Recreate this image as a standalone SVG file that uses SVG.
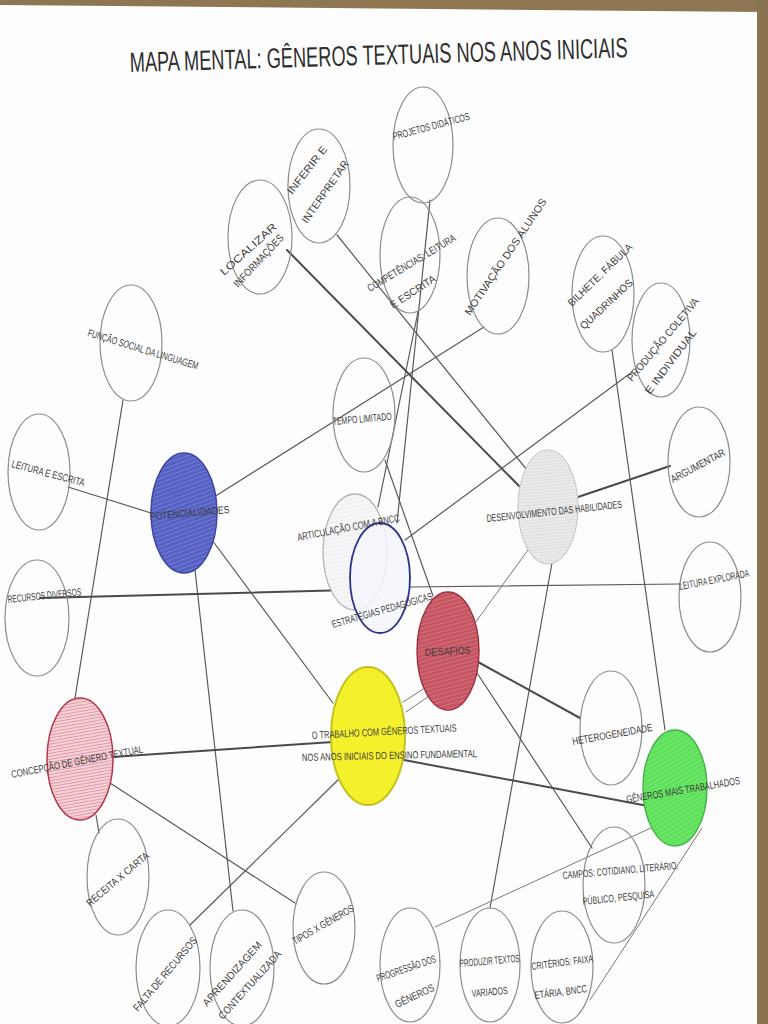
<svg xmlns="http://www.w3.org/2000/svg" width="768" height="1024" viewBox="0 0 768 1024">
<style>
  .lbl { font-family: "Liberation Sans", "DejaVu Sans", sans-serif; font-size: 10.5px; fill: #3e3e3e; }
  .title { font-family: "Liberation Sans", "DejaVu Sans", sans-serif; font-size: 28px; fill: #2e2e2e; }
  .node { fill: #ffffff; fill-opacity: 0; stroke: #8c8c8c; stroke-width: 1.2; }
  .ln { stroke: #5a5a5a; stroke-width: 1.2; fill: none; stroke-linecap: round; }
  .lt { stroke: #7a7a7a; stroke-width: 1; fill: none; stroke-linecap: round; }
  .lk { stroke: #4a4a4a; stroke-width: 2; fill: none; stroke-linecap: round; }
</style>
<defs>
  <pattern id="hatchBlue" width="4" height="4" patternUnits="userSpaceOnUse" patternTransform="rotate(70)">
    <rect width="4" height="4" fill="#5461c2"/>
    <line x1="0" y1="0" x2="0" y2="4" stroke="#8d96dc" stroke-width="1"/>
  </pattern>
  <pattern id="hatchRed" width="4" height="4" patternUnits="userSpaceOnUse" patternTransform="rotate(75)">
    <rect width="4" height="4" fill="#c65562"/>
    <line x1="0" y1="0" x2="0" y2="4" stroke="#de8d96" stroke-width="1"/>
  </pattern>
  <pattern id="hatchPink" width="3" height="3" patternUnits="userSpaceOnUse" patternTransform="rotate(80)">
    <rect width="3" height="3" fill="#f4d2d7"/>
    <line x1="0" y1="0" x2="0" y2="3" stroke="#c8566a" stroke-width="0.9"/>
  </pattern>
  <pattern id="hatchGreen" width="4" height="4" patternUnits="userSpaceOnUse" patternTransform="rotate(60)">
    <rect width="4" height="4" fill="#5fe05c"/>
    <line x1="0" y1="0" x2="0" y2="4" stroke="#8ef08a" stroke-width="1"/>
  </pattern>
  <pattern id="hatchGray" width="3" height="3" patternUnits="userSpaceOnUse" patternTransform="rotate(85)">
    <rect width="3" height="3" fill="#eaeaea"/>
    <line x1="0" y1="0" x2="0" y2="3" stroke="#cfcfcf" stroke-width="0.9"/>
  </pattern>
  <pattern id="hatchLight" width="4" height="4" patternUnits="userSpaceOnUse" patternTransform="rotate(80)">
    <rect width="4" height="4" fill="#f6f6f8"/>
    <line x1="0" y1="0" x2="0" y2="4" stroke="#dedee6" stroke-width="0.8"/>
  </pattern>
</defs>

<!-- paper and board edges -->
<rect x="0" y="0" width="768" height="1024" fill="#fdfdfd"/>
<polygon points="0,0 768,0 768,12 0,5" fill="#8e7652"/>
<rect x="757" y="0" width="11" height="1024" fill="#8a7350"/>

<!-- title -->
<g id="title">
  <text class="title" x="130" y="72" textLength="498" lengthAdjust="spacingAndGlyphs" transform="rotate(-1.7 130 72)">MAPA MENTAL: GÊNEROS TEXTUAIS NOS ANOS INICIAIS</text>
</g>

<!-- connectors -->
<g id="connectors">
  <line class="ln" x1="123" y1="400" x2="75" y2="698"/>
  <line class="ln" x1="68" y1="487" x2="151" y2="513"/>
  <line class="ln" x1="214" y1="497" x2="484" y2="327"/>
  <line class="ln" x1="212" y1="540" x2="333" y2="703"/>
  <line class="ln" x1="195" y1="570" x2="233" y2="911"/>
  <line class="lk" x1="40" y1="598" x2="350" y2="590"/>
  <line class="ln" x1="410" y1="587" x2="681" y2="584" stroke-width="1.6"/>
  <line class="lk" x1="287" y1="250" x2="520" y2="487" stroke-width="1.7"/>
  <line class="ln" x1="337" y1="235" x2="527" y2="470"/>
  <line class="ln" x1="430" y1="200" x2="397" y2="523"/>
  <line class="ln" x1="418" y1="312" x2="378" y2="507"/>
  <line class="ln" x1="405" y1="540" x2="632" y2="372"/>
  <line class="ln" x1="385" y1="460" x2="433" y2="596"/>
  <line class="lk" x1="578" y1="497" x2="670" y2="466"/>
  <line class="lt" x1="533" y1="543" x2="475" y2="623"/>
  <line class="ln" x1="552" y1="563" x2="490" y2="908"/>
  <line class="ln" x1="612" y1="350" x2="665" y2="730"/>
  <line class="lk" x1="478" y1="662" x2="580" y2="718" stroke-width="1.7"/>
  <line class="ln" x1="477" y1="673" x2="592" y2="848"/>
  <line class="lt" x1="403" y1="702" x2="428" y2="686"/>
  <line class="lt" x1="406" y1="712" x2="432" y2="694"/>
  <line class="lk" x1="333" y1="742" x2="112" y2="757"/>
  <line class="lk" x1="404" y1="760" x2="648" y2="806"/>
  <line class="ln" x1="340" y1="778" x2="190" y2="925" stroke-width="1.5"/>
  <line class="ln" x1="110" y1="783" x2="295" y2="903" stroke-width="1.6"/>
  <line class="ln" x1="96" y1="815" x2="99" y2="833"/>
  <line class="lt" x1="653" y1="827" x2="435" y2="927"/>
  <line class="lt" x1="702" y1="828" x2="590" y2="1000"/>
</g>

<!-- nodes -->
<g id="n-projetos">
  <ellipse class="node" cx="423" cy="145" rx="30" ry="58"/>
  <text class="lbl" x="394" y="140" textLength="79" lengthAdjust="spacingAndGlyphs" transform="rotate(-15 394 140)">PROJETOS DIDÁTICOS</text>
</g>
<g id="n-inferir">
  <ellipse class="node" cx="319" cy="186" rx="31" ry="57"/>
  <text class="lbl" x="292" y="195" textLength="58" lengthAdjust="spacingAndGlyphs" transform="rotate(-52 292 195)">INFERIR E</text>
  <text class="lbl" x="307" y="224" textLength="74" lengthAdjust="spacingAndGlyphs" transform="rotate(-55 307 224)">INTERPRETAR</text>
</g>
<g id="n-localizar">
  <ellipse class="node" cx="260" cy="237" rx="32" ry="57"/>
  <text class="lbl" x="224" y="276" textLength="72" lengthAdjust="spacingAndGlyphs" transform="rotate(-42 224 276)">LOCALIZAR</text>
  <text class="lbl" x="238" y="288" textLength="68" lengthAdjust="spacingAndGlyphs" transform="rotate(-47 238 288)">INFORMAÇÕES</text>
</g>
<g id="n-competencias">
  <ellipse class="node" cx="410" cy="255" rx="30" ry="58"/>
  <text class="lbl" x="370" y="292" textLength="101" lengthAdjust="spacingAndGlyphs" transform="rotate(-31 370 292)">COMPETÊNCIAS: LEITURA</text>
  <text class="lbl" x="393" y="309" textLength="52" lengthAdjust="spacingAndGlyphs" transform="rotate(-33 393 309)">E ESCRITA</text>
</g>
<g id="n-motivacao">
  <ellipse class="node" cx="498" cy="276" rx="31" ry="58"/>
  <text class="lbl" x="470" y="316" textLength="138" lengthAdjust="spacingAndGlyphs" transform="rotate(-56 470 316)">MOTIVAÇÃO DOS ALUNOS</text>
</g>
<g id="n-bilhete">
  <ellipse class="node" cx="603" cy="294" rx="31" ry="58"/>
  <text class="lbl" x="572" y="307" textLength="85" lengthAdjust="spacingAndGlyphs" transform="rotate(-44 572 307)">BILHETE, FÁBULA</text>
  <text class="lbl" x="584" y="330" textLength="68" lengthAdjust="spacingAndGlyphs" transform="rotate(-43 584 330)">QUADRINHOS</text>
</g>
<g id="n-producao">
  <ellipse class="node" cx="661" cy="340" rx="29" ry="57"/>
  <text class="lbl" x="632" y="382" textLength="105" lengthAdjust="spacingAndGlyphs" transform="rotate(-50 632 382)">PRODUÇÃO COLETIVA</text>
  <text class="lbl" x="650" y="395" textLength="78" lengthAdjust="spacingAndGlyphs" transform="rotate(-53 650 395)">E INDIVIDUAL</text>
</g>
<g id="n-funcao">
  <ellipse class="node" cx="131" cy="343" rx="31" ry="58"/>
  <text class="lbl" x="87" y="336" textLength="115" lengthAdjust="spacingAndGlyphs" transform="rotate(17 87 336)">FUNÇÃO SOCIAL DA LINGUAGEM</text>
</g>
<g id="n-tempo">
  <ellipse class="node" cx="364" cy="415" rx="31" ry="57"/>
  <text class="lbl" x="333" y="425" textLength="59" lengthAdjust="spacingAndGlyphs" transform="rotate(-5 333 425)">TEMPO LIMITADO</text>
</g>
<g id="n-leitura-escrita">
  <ellipse class="node" cx="39" cy="472" rx="31" ry="58"/>
  <text class="lbl" x="11" y="467" textLength="75" lengthAdjust="spacingAndGlyphs" transform="rotate(15 11 467)">LEITURA E ESCRITA</text>
</g>
<g id="n-potencialidades">
  <ellipse cx="184" cy="513" rx="33" ry="60" fill="url(#hatchBlue)" stroke="#3d45a4" stroke-width="1.5"/>
  <text class="lbl" x="150" y="520" textLength="80" lengthAdjust="spacingAndGlyphs" transform="rotate(-5 150 520)">POTENCIALIDADES</text>
</g>
<g id="n-desenvolvimento">
  <ellipse cx="548" cy="507" rx="30" ry="57" fill="url(#hatchGray)" stroke="#cacaca" stroke-width="1.2"/>
  <text class="lbl" x="487" y="522" textLength="136" lengthAdjust="spacingAndGlyphs" transform="rotate(-6 487 522)">DESENVOLVIMENTO DAS HABILIDADES</text>
</g>
<g id="n-argumentar">
  <ellipse class="node" cx="699" cy="462" rx="31" ry="55"/>
  <text class="lbl" x="673" y="483" textLength="60" lengthAdjust="spacingAndGlyphs" transform="rotate(-28 673 483)">ARGUMENTAR</text>
</g>
<g id="n-articulacao">
  <ellipse cx="355" cy="552" rx="32" ry="58" fill="url(#hatchLight)" stroke="#b4b4b4" stroke-width="1.3"/>
</g>
<g id="n-estrategias">
  <ellipse cx="380" cy="578" rx="30" ry="55" fill="#f5f6fb" fill-opacity="0.85" stroke="#2e318c" stroke-width="1.8"/>
  <text class="lbl" x="333" y="628" textLength="104" lengthAdjust="spacingAndGlyphs" transform="rotate(-16 333 628)">ESTRATÉGIAS PEDAGÓGICAS</text>
</g>
<g id="n-articulacao-label">
  <text class="lbl" x="298" y="541" textLength="104" lengthAdjust="spacingAndGlyphs" transform="rotate(-11 298 541)">ARTICULAÇÃO COM A BNCC</text>
</g>
<g id="n-recursos">
  <ellipse class="node" cx="37" cy="618" rx="32" ry="58"/>
  <text class="lbl" x="8" y="603" textLength="74" lengthAdjust="spacingAndGlyphs" transform="rotate(-6 8 603)">RECURSOS DIVERSOS</text>
</g>
<g id="n-leitura-explorada">
  <ellipse class="node" cx="710" cy="597" rx="31" ry="55"/>
  <text class="lbl" x="680" y="590" textLength="71" lengthAdjust="spacingAndGlyphs" transform="rotate(-11 680 590)">LEITURA EXPLORADA</text>
</g>
<g id="n-desafios">
  <ellipse cx="448" cy="651" rx="31" ry="59" fill="url(#hatchRed)" stroke="#9c2f3e" stroke-width="1.4"/>
  <text class="lbl" x="425" y="656" textLength="46" lengthAdjust="spacingAndGlyphs" transform="rotate(-3 425 656)">DESAFIOS</text>
</g>
<g id="n-heterogeneidade">
  <ellipse class="node" cx="611" cy="728" rx="31" ry="57"/>
  <text class="lbl" x="573" y="745" textLength="81" lengthAdjust="spacingAndGlyphs" transform="rotate(-10 573 745)">HETEROGENEIDADE</text>
</g>
<g id="n-trabalho">
  <ellipse cx="368" cy="736" rx="37" ry="69" fill="#f5f02c" stroke="#c7c11c" stroke-width="2"/>
  <text class="lbl" x="312" y="739" textLength="145" lengthAdjust="spacingAndGlyphs" transform="rotate(-3 312 739)">O TRABALHO COM GÊNEROS TEXTUAIS</text>
  <text class="lbl" x="302" y="761" textLength="175" lengthAdjust="spacingAndGlyphs" transform="rotate(-1.3 302 761)">NOS ANOS INICIAIS DO ENSINO FUNDAMENTAL</text>
</g>
<g id="n-concepcao">
  <ellipse cx="80" cy="759" rx="33" ry="61" fill="url(#hatchPink)" stroke="#b5374a" stroke-width="1.5"/>
  <text class="lbl" x="12" y="778" textLength="134" lengthAdjust="spacingAndGlyphs" transform="rotate(-11 12 778)">CONCEPÇÃO DE GÊNERO TEXTUAL</text>
</g>
<g id="n-generos-mais">
  <ellipse cx="675" cy="788" rx="32" ry="58" fill="url(#hatchGreen)" stroke="#42b342" stroke-width="1.4"/>
  <text class="lbl" x="627" y="803" textLength="115" lengthAdjust="spacingAndGlyphs" transform="rotate(-9.5 627 803)">GÊNEROS MAIS TRABALHADOS</text>
</g>
<g id="n-receita">
  <ellipse class="node" cx="118" cy="877" rx="31" ry="58"/>
  <text class="lbl" x="90" y="907" textLength="78" lengthAdjust="spacingAndGlyphs" transform="rotate(-40 90 907)">RECEITA X CARTA</text>
</g>
<g id="n-campos">
  <ellipse class="node" cx="614" cy="885" rx="31" ry="58"/>
  <text class="lbl" x="563" y="879" textLength="116" lengthAdjust="spacingAndGlyphs" transform="rotate(-5 563 879)">CAMPOS: COTIDIANO, LITERÁRIO,</text>
  <text class="lbl" x="583" y="905" textLength="72" lengthAdjust="spacingAndGlyphs" transform="rotate(-6 583 905)">PÚBLICO, PESQUISA</text>
</g>
<g id="n-tipos">
  <ellipse class="node" cx="324" cy="928" rx="31" ry="56"/>
  <text class="lbl" x="295" y="945" textLength="69" lengthAdjust="spacingAndGlyphs" transform="rotate(-30 295 945)">TIPOS X GÊNEROS</text>
</g>
<g id="n-falta">
  <ellipse class="node" cx="168" cy="968" rx="32" ry="58"/>
  <text class="lbl" x="138" y="1012" textLength="93" lengthAdjust="spacingAndGlyphs" transform="rotate(-50 138 1012)">FALTA DE RECURSOS</text>
</g>
<g id="n-aprendizagem">
  <ellipse class="node" cx="242" cy="968" rx="32" ry="58"/>
  <text class="lbl" x="207" y="1007" textLength="83" lengthAdjust="spacingAndGlyphs" transform="rotate(-48 207 1007)">APRENDIZAGEM</text>
  <text class="lbl" x="223" y="1020" textLength="88" lengthAdjust="spacingAndGlyphs" transform="rotate(-48 223 1020)">CONTEXTUALIZADA</text>
</g>
<g id="n-progressao">
  <ellipse class="node" cx="410" cy="965" rx="30" ry="57"/>
  <text class="lbl" x="378" y="982" textLength="62" lengthAdjust="spacingAndGlyphs" transform="rotate(-19 378 982)">PROGRESSÃO DOS</text>
  <text class="lbl" x="397" y="1008" textLength="42" lengthAdjust="spacingAndGlyphs" transform="rotate(-25 397 1008)">GÊNEROS</text>
</g>
<g id="n-produzir">
  <ellipse class="node" cx="490" cy="965" rx="30" ry="57"/>
  <text class="lbl" x="460" y="967" textLength="60" lengthAdjust="spacingAndGlyphs" transform="rotate(-5 460 967)">PRODUZIR TEXTOS</text>
  <text class="lbl" x="472" y="997" textLength="36" lengthAdjust="spacingAndGlyphs" transform="rotate(-5 472 997)">VARIADOS</text>
</g>
<g id="n-criterios">
  <ellipse class="node" cx="562" cy="967" rx="31" ry="56"/>
  <text class="lbl" x="532" y="970" textLength="62" lengthAdjust="spacingAndGlyphs" transform="rotate(-7.5 532 970)">CRITÉRIOS: FAIXA</text>
  <text class="lbl" x="535" y="999" textLength="53" lengthAdjust="spacingAndGlyphs" transform="rotate(-7.5 535 999)">ETÁRIA, BNCC</text>
</g>
</svg>
